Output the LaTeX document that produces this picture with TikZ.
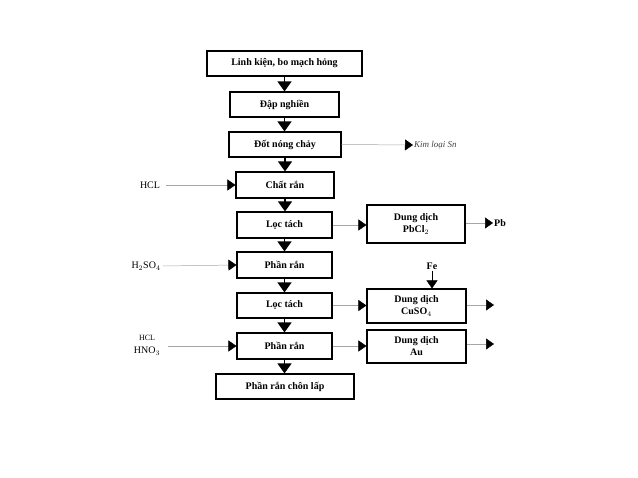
\documentclass[tikz,border=0pt]{standalone}
\usepackage{fontspec}
\setmainfont{Liberation Serif}
\usetikzlibrary{arrows.meta}
\begin{document}
\begin{tikzpicture}[x=1pt,y=-1pt,
  box/.style={draw,line width=1.1pt,inner sep=0pt,font=\fontsize{10}{12}\selectfont\bfseries,align=center},
  down/.style={line width=1.2pt,-{Triangle[width=14pt,length=10pt]}},
  side/.style={draw=gray!70,line width=0.5pt,-{Triangle[width=11pt,length=8pt,fill=black,color=black]}},
  lab/.style={font=\fontsize{10}{12}\selectfont,inner sep=1pt}]
\path[use as bounding box] (0,0) rectangle (638,478);
\newcommand{\bx}[6]{\node[box,minimum width={#4-#2},minimum height={#5-#3}] (#1) at ({(#2+#4)/2},{(#3+#5)/2}) {#6};}
\bx{b1}{207}{51}{362}{76}{Linh kiện, bo mạch hỏng}
\bx{b2}{230}{92}{339}{117}{Đập nghiền}
\bx{b3}{229}{132}{341}{157}{Đốt nóng chảy}
\bx{b4}{236}{172}{334}{198}{Chất rắn}
\bx{b5}{237}{212}{332}{238}{Lọc tách}
\bx{b6}{237}{252}{332}{278}{Phần rắn}
\bx{b7}{237}{293}{332}{318}{Lọc tách}
\bx{b8}{237}{333}{332}{359}{Phần rắn}
\bx{b9}{216}{374}{354}{399}{Phần rắn chôn lấp}
\bx{r1}{367}{205}{465}{243}{Dung dịch\\PbCl$_2$}
\bx{r2}{367}{289}{466}{323}{Dung dịch\\CuSO$_4$}
\bx{r3}{367}{330}{466}{363}{Dung dịch\\Au}
\foreach \a/\b in {b1/b2,b2/b3,b3/b4,b4/b5,b5/b6,b6/b7,b7/b8,b8/b9}
  \draw[down] (\a.south) -- (\a.south|-\b.north);
\node[lab,anchor=west,font=\fontsize{9}{11}\selectfont\itshape,text=gray!50!black] (sn) at (413,145) {Kim loại Sn};
\draw[side] (b3.east) -- (sn.west);
\node[lab] (hcl) at (150,185) {HCL};
\draw[side] (hcl.east)++(5,0) -- (b4.west);
\draw[side] (b5.east) -- (r1.west|-b5.east);
\node[lab,anchor=west,font=\fontsize{10}{12}\selectfont\bfseries] (pb) at (493,223) {Pb};
\draw[side] (r1.east|-pb.west) -- (pb.west);
\node[lab] (h2) at (146,266) {H$_2$SO$_4$};
\draw[side] (163,266) -- (b6.west);
\node[lab,font=\fontsize{10}{12}\selectfont\bfseries] (fe) at (432,266) {Fe};
\draw[side,draw=black] (fe.south) -- (fe.south|-r2.north);
\draw[side] (b7.east) -- (r2.west|-b7.east);
\coordinate (c1) at (494,305);
\draw[side] (r2.east|-c1) -- (c1);
\node[lab,font=\fontsize{8}{10}\selectfont] (hc2) at (147,338) {HCL};
\node[lab] (hno) at (147,351) {HNO$_3$};
\draw[side] (168,346) -- (b8.west);
\draw[side] (b8.east) -- (r3.west|-b8.east);
\coordinate (c2) at (494,344);
\draw[side] (r3.east|-c2) -- (c2);
\end{tikzpicture}
\end{document}
